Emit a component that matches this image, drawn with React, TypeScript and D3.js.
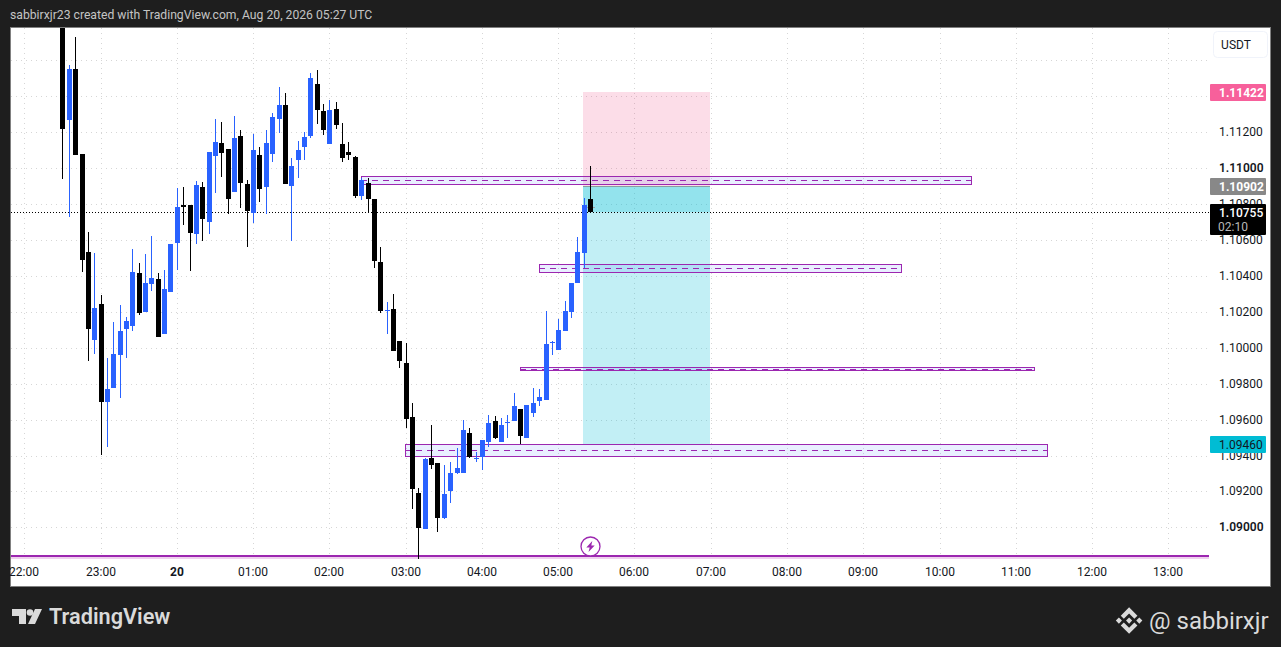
import { useEffect, useRef } from 'react';
import { scaleLinear, scaleUtc, select } from 'd3';

// 5 minute candles, first one opens at 22:30, prices in 1e-5 units
const START = Date.UTC(2026, 7, 19, 22, 30);
const opens = [111780,111269,111553,111079,110533,110043,110244,109698,109776,109960,110104,110121,110416,110199,110355,110383,110077,110311,110583,110795,110795,110634,110895,110700,111068,111140,111107,110868,111180,110912,110751,111074,110895,111079,111274,111352,110901,111046,111118,111180,111469,111319,111135,111330,111135,111090,111063,110845,110918,110829,110478,110205,110216,110038,109915,109614,109191,108991,109386,109358,109052,109202,109302,109302,109525,109383,109392,109475,109592,109475,109581,109592,109659,109497,109637,109703,109709,110027,109988,110093,110199,110361,110528,110829];
const highs = [111800,111575,111729,111079,110645,110528,110294,109943,110143,110238,110171,110550,110472,110522,110622,110416,110433,110578,110890,110895,110795,110929,110923,111090,111274,111257,111107,111291,111213,110934,111191,111118,111213,111308,111452,111419,111057,111152,111202,111530,111547,111358,111380,111369,111252,111146,111068,110946,110946,110829,110561,110255,110299,110038,110027,109692,109219,109386,109570,109358,109347,109364,109442,109598,109553,109419,109486,109625,109620,109609,109625,109748,109659,109681,109776,109770,110205,110038,110160,110260,110361,110617,110834,111012];
const lows = [110942,110730,111075,110422,109926,109965,109403,109447,109776,109720,109943,110093,110182,110199,110316,110060,110077,110311,110433,110684,110428,110578,110595,110634,110862,110951,110745,110868,110778,110561,110695,110812,110745,111035,111196,110912,110595,110946,111046,111168,111246,111185,111135,111218,111035,111046,110834,110823,110756,110444,110194,110077,109982,109887,109553,109102,108823,108991,109325,108974,109046,109135,109297,109302,109386,109364,109319,109447,109492,109475,109497,109592,109464,109497,109614,109676,109709,109960,109988,110093,110166,110361,110444,110755];
const closes = [111220,111553,111075,110489,110104,110221,109698,109770,109965,110093,110149,110422,110194,110361,110389,110060,110327,110578,110784,110784,110639,110907,110717,111090,111146,111085,110829,111168,110918,110762,111102,110884,111140,111285,111352,110912,111012,111102,111174,111503,111324,111213,111324,111241,111057,111074,110845,110934,110829,110483,110205,110210,109982,109926,109603,109213,108996,109380,109347,109052,109185,109302,109330,109542,109392,109389,109486,109581,109497,109570,109587,109676,109509,109681,109692,109726,110019,110032,110099,110205,110361,110533,110795,110755];

const priceTicks = [111600,111400,111200,111000,110800,110600,110400,110200,110000,109800,109600,109400,109200,109000];
const priceLabels = [111200,111000,110800,110600,110400,110200,110000,109800,109600,109400,109200,109000];
const boldPrices = [111000,109000];
const timeTicks = ['22:00','23:00','20','01:00','02:00','03:00','04:00','05:00','06:00','07:00','08:00','09:00','10:00','11:00','12:00','13:00'];

// zones: start and end in minutes after 22:00, top and bottom price
const zoneStarts = [265, 405, 390, 300];
const zoneEnds = [745, 690, 795, 805];
const zoneTops = [110958, 110465, 109891, 109462];
const zoneBottoms = [110910, 110420, 109878, 109399];

const stopPrice = 111422;
const entryPrice = 110902;
const targetPrice = 109460;
const lastPrice = 110755;
const floorPrice = 108845;

const BLUE = '#2962ff';
const PURPLE = '#9c27b0';
const FONT = 'Roboto, sans-serif';
const AXIS_SIZE = 12;

const min = (m: number) => new Date(Date.UTC(2026, 7, 19, 22, 0) + m * 60000);

export default function App() {
  const svgRef = useRef<SVGSVGElement>(null);

  useEffect(() => {
    const svg = select(svgRef.current);
    svg.selectAll('*').remove();

    const x = scaleUtc().domain([min(0), min(900)]).range([24.3, 1168.4]);
    const y = scaleLinear().domain([109000, 111200]).range([527.4, 132.3]);
    const px = (m: number) => Math.round(x(min(m)));
    const fx = (m: number) => Math.floor(x(min(m)));
    const py = (p: number) => Math.round(y(p));

    svg.append('rect').attr('width', 1281).attr('height', 647).attr('fill', '#1e1e1e');
    svg.append('rect').attr('x', 10.5).attr('y', 27.5).attr('width', 1260).attr('height', 559)
      .attr('fill', '#fff').attr('stroke', '#808080');

    svg.append('clipPath').attr('id', 'plot').append('rect')
      .attr('x', 11).attr('y', 28).attr('width', 1198).attr('height', 531);

    // grid
    const grid = svg.append('g').attr('stroke', '#d6d6d6').attr('stroke-dasharray', '1 4');
    timeTicks.forEach((_, i) => {
      grid.append('line').attr('x1', px(i * 60) + 0.5).attr('x2', px(i * 60) + 0.5)
        .attr('y1', 28).attr('y2', 555);
    });
    priceTicks.forEach((p) => {
      grid.append('line').attr('x1', 11).attr('x2', 1207)
        .attr('y1', py(p) + 0.5).attr('y2', py(p) + 0.5);
    });

    const plot = svg.append('g').attr('clip-path', 'url(#plot)');

    // long position box
    const posX = fx(440);
    const posW = fx(540) - posX;
    plot.append('rect').attr('x', posX).attr('y', py(stopPrice)).attr('width', posW)
      .attr('height', py(entryPrice) - py(stopPrice)).attr('fill', 'rgba(233,30,99,0.15)');
    plot.append('rect').attr('x', posX).attr('y', py(entryPrice)).attr('width', posW)
      .attr('height', py(targetPrice) - py(entryPrice)).attr('fill', 'rgba(0,188,212,0.24)');
    plot.append('rect').attr('x', posX).attr('y', py(entryPrice)).attr('width', posW)
      .attr('height', py(lastPrice) - py(entryPrice)).attr('fill', 'rgba(0,188,212,0.24)');
    plot.append('rect').attr('x', posX).attr('y', py(entryPrice)).attr('width', posW)
      .attr('height', 1).attr('fill', '#8a9c9e');
    plot.append('rect').attr('x', posX + 3).attr('y', 207).attr('width', 9).attr('height', 1).attr('fill', '#a0a0a0');

    // supply and demand zones
    const zones = plot.append('g').attr('shape-rendering', 'crispEdges');
    zoneStarts.forEach((s, i) => {
      const x0 = fx(s);
      const x1 = fx(zoneEnds[i]);
      const y0 = py(zoneTops[i]);
      const y1 = py(zoneBottoms[i]);
      zones.append('rect').attr('x', x0 + 0.5).attr('y', y0 + 0.5).attr('width', x1 - x0)
        .attr('height', y1 - y0).attr('fill', 'rgba(41,98,255,0.1)')
        .attr('stroke', PURPLE).attr('stroke-width', 1);
      const mid = Math.round((y0 + y1) / 2) + 0.5;
      zones.append('line').attr('x1', x0).attr('x2', x1).attr('y1', mid).attr('y2', mid)
        .attr('stroke', PURPLE).attr('stroke-dasharray', '6 5');
    });

    // bottom line
    plot.append('rect').attr('x', 11).attr('y', 557).attr('width', 1198).attr('height', 2).attr('fill', '#efd0ee');
    plot.append('rect').attr('x', 11).attr('y', py(floorPrice)).attr('width', 1198).attr('height', 2).attr('fill', PURPLE);

    // last price line
    plot.append('line').attr('x1', 11).attr('x2', 1209).attr('y1', py(lastPrice) + 0.5).attr('y2', py(lastPrice) + 0.5)
      .attr('stroke', '#000').attr('stroke-dasharray', '1 2');

    // candles
    const candles = plot.append('g').attr('shape-rendering', 'crispEdges');
    opens.forEach((o, i) => {
      const c = closes[i];
      const cx = Math.round(x(new Date(START + i * 300000)));
      const color = c >= o ? BLUE : '#000';
      const top = py(Math.max(o, c));
      candles.append('rect').attr('x', cx).attr('width', 1).attr('y', py(highs[i]))
        .attr('height', Math.max(1, py(lows[i]) - py(highs[i]))).attr('fill', color);
      candles.append('rect').attr('x', cx - 2).attr('width', 5).attr('y', top)
        .attr('height', Math.max(1, py(Math.min(o, c)) - top)).attr('fill', color);
    });

    // event marker
    const ev = svg.append('g').attr('transform', 'translate(590.5,546.5)');
    ev.append('circle').attr('r', 9.5).attr('fill', '#fff').attr('stroke', PURPLE).attr('stroke-width', 1.3);
    ev.append('path').attr('d', 'M1.8 -5.5 L-4.2 1 L-0.8 1 L-2 5.5 L4.2 -1 L0.8 -1 Z').attr('fill', PURPLE);

    // price axis, 1.10800 and 1.09400 sit partly behind the price tags as in the original
    priceLabels.forEach((p) => {
      svg.append('text').attr('x', 1219).attr('y', py(p) + 4)
        .attr('font-family', FONT).attr('font-size', AXIS_SIZE)
        .attr('font-weight', boldPrices.includes(p) ? 600 : 400)
        .attr('fill', '#131722').text((p / 100000).toFixed(5));
    });

    const tag = (p: number, fill: string, color: string, y0: number, h: number, weight: number) => {
      svg.append('rect').attr('x', 1210).attr('y', y0).attr('width', 56).attr('height', h).attr('rx', 1).attr('fill', fill);
      svg.append('text').attr('x', 1219).attr('y', y0 + 13)
        .attr('font-family', FONT).attr('font-size', AXIS_SIZE).attr('font-weight', weight)
        .attr('fill', color).text((p / 100000).toFixed(5));
    };
    tag(stopPrice, '#f7609b', '#fff', 84, 17, 700);
    tag(entryPrice, '#888888', '#fff', 178, 17, 700);
    tag(lastPrice, '#000', '#fff', 204, 31, 500);
    tag(targetPrice, '#00bcd4', '#131722', 436, 17, 400);
    svg.append('text').attr('x', 1218).attr('y', 231).attr('font-family', FONT).attr('font-size', AXIS_SIZE)
      .attr('fill', '#b8b8b8').text('02:10');

    // currency box
    svg.append('rect').attr('x', 1213.5).attr('y', 31.5).attr('width', 54).attr('height', 26).attr('rx', 4)
      .attr('fill', '#fff').attr('stroke', '#f0f3fa');
    svg.append('text').attr('x', 1236).attr('y', 49).attr('text-anchor', 'middle')
      .attr('font-family', FONT).attr('font-size', 12).attr('fill', '#131722').text('USDT');

    // time axis
    timeTicks.forEach((t, i) => {
      svg.append('text').attr('x', px(i * 60)).attr('y', 576).attr('text-anchor', 'middle')
        .attr('font-family', FONT).attr('font-size', AXIS_SIZE)
        .attr('font-weight', t === '20' ? 700 : 400).attr('fill', '#131722').text(t);
    });

    // header and footer
    svg.append('text').attr('x', 10).attr('y', 19).attr('font-family', FONT).attr('font-size', 12.2)
      .attr('fill', '#c4c4c4').text('sabbirxjr23 created with TradingView.com, Aug 20, 2026 05:27 UTC');

    svg.append('path').attr('d', 'M12 609H26V624H19V616H12Z M28 624L35 609H42L35 624Z').attr('fill', '#dadada');
    svg.append('circle').attr('cx', 30).attr('cy', 612.5).attr('r', 3.3).attr('fill', '#dadada');
    svg.append('text').attr('x', 49).attr('y', 624).attr('font-family', FONT).attr('font-size', 21.7)
      .attr('font-weight', 600).attr('fill', '#dadada').text('TradingView');

    svg.append('path')
      .attr('transform', 'translate(1115.5,607) scale(0.85)')
      .attr('d', 'M9.8 13.8L16 7.6l6.2 6.2 3.6-3.6L16 .4 6.2 10.2zM.4 16L4 12.4 7.6 16 4 19.6zM9.8 18.2L16 24.4l6.2-6.2 3.6 3.6L16 31.6l-9.8-9.8zM24.4 16L28 12.4 31.6 16 28 19.6zM19.6 16L16 12.4 12.4 16 16 19.6z')
      .attr('fill', '#dadada');
    svg.append('text').attr('x', 1149).attr('y', 629).attr('font-family', FONT).attr('font-size', 24)
      .attr('fill', '#dadada').text('@ sabbirxjr');
  }, []);

  return (
    <svg ref={svgRef} width={1281} height={647} style={{ position: 'absolute', left: 0, top: 0 }}></svg>
  );
}
